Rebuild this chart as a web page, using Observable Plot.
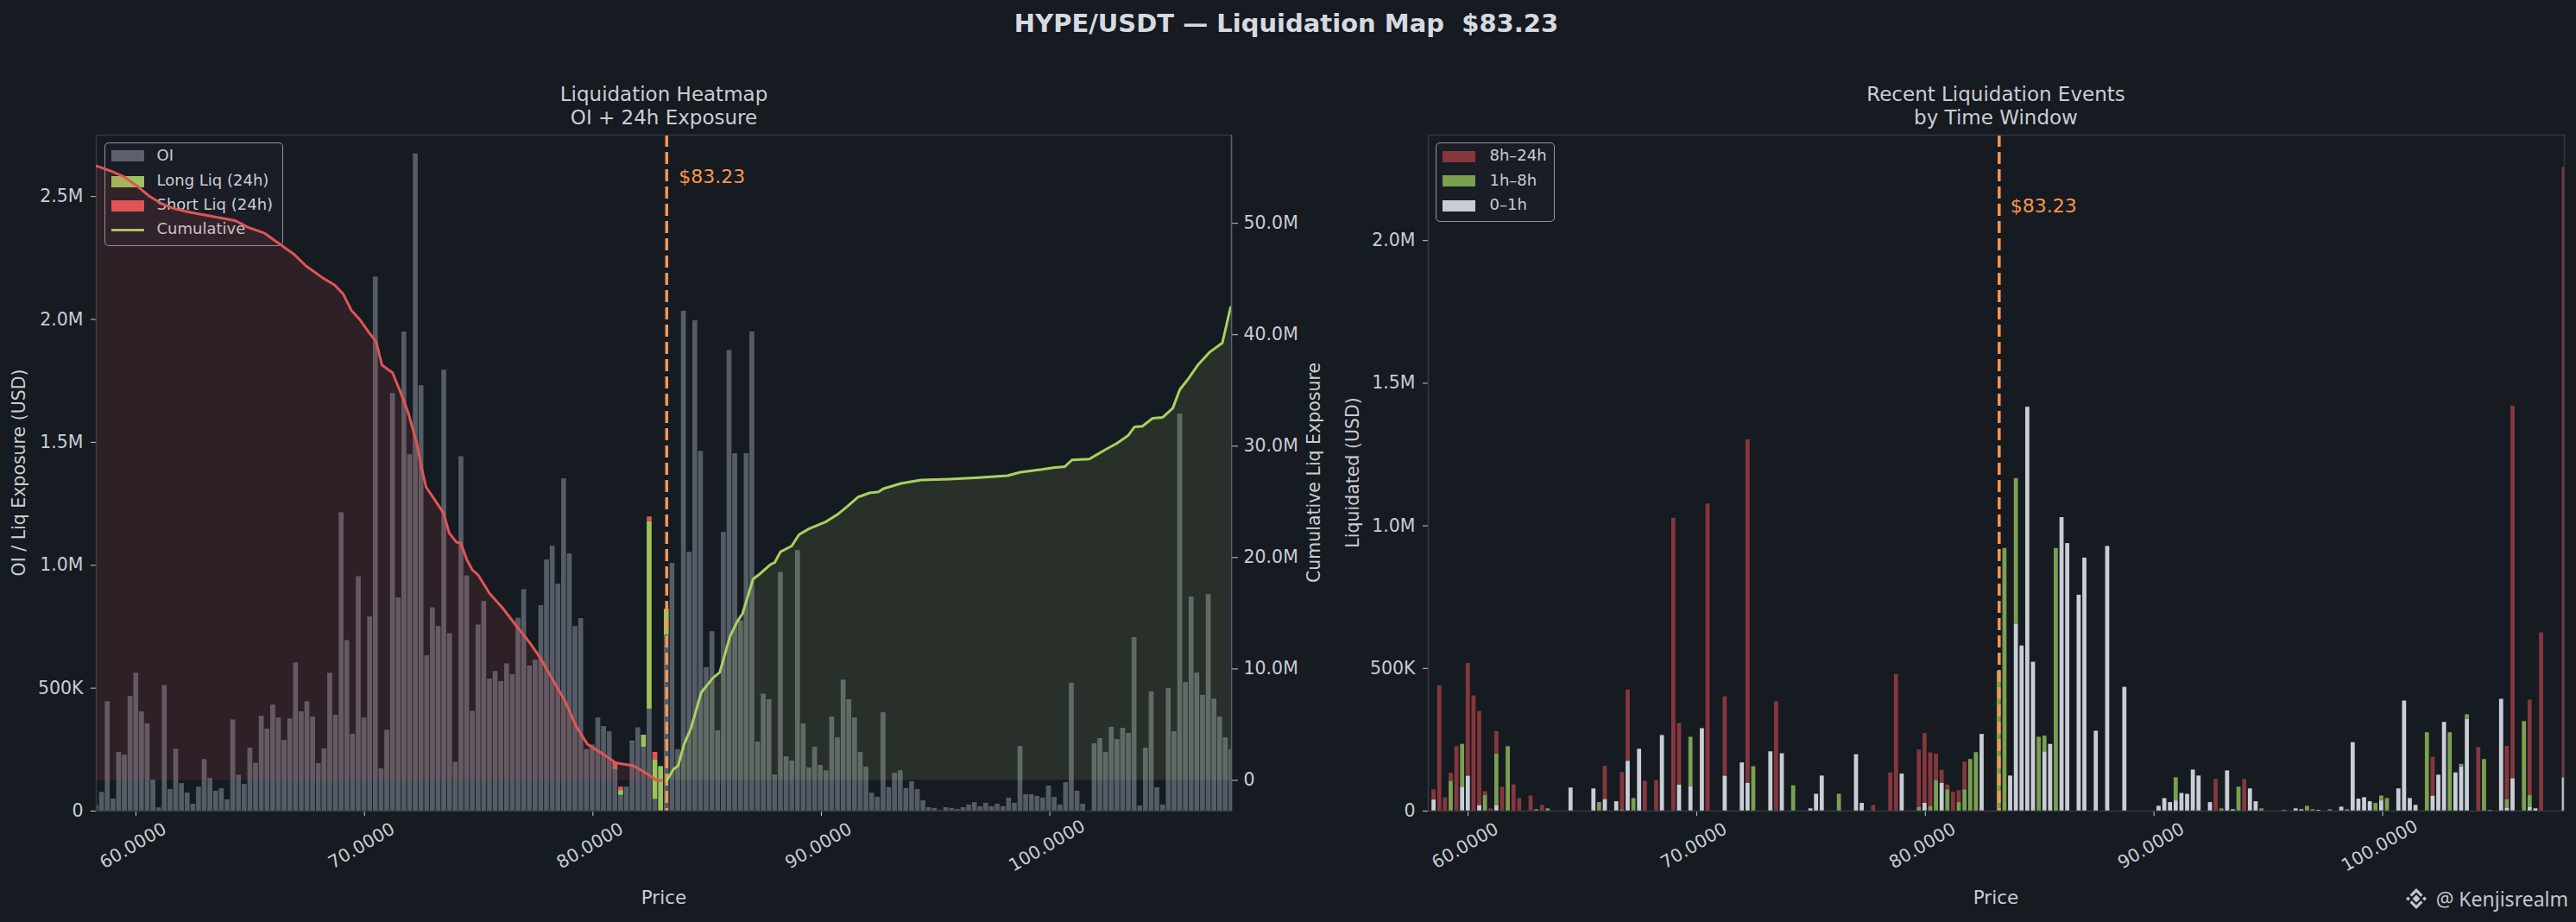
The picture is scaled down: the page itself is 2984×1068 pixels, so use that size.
<!DOCTYPE html>
<html>
<head>
<meta charset="utf-8">
<script src="https://cdn.jsdelivr.net/npm/d3@7"></script>
<script src="https://cdn.jsdelivr.net/npm/@observablehq/plot@0.6"></script>
<style>
html, body { margin:0; padding:0; background:#161a21; }
#root { position:relative; width:2984px; height:1068px; overflow:hidden; background:#161a21; font-family:"DejaVu Sans", sans-serif; }
.layer { position:absolute; top:0; }
.legend { position:absolute; box-sizing:border-box; background:rgba(27,31,39,0.82); border:1.5px solid rgba(175,180,187,0.8); border-radius:5px; }
.legend .sw { position:absolute; }
.legend .lab { position:absolute; font-size:18px; color:#c9cdd3; line-height:18px; white-space:nowrap; }
</style>
</head>
<body>
<div id="root"></div>
<script>
// ---------------- DATA ----------------
const price = 83.23;
const binLow = 58.261;      // first bin (0.7 x price)
const binStep = 0.24969;    // bin width (0.003 x price)
const xTicks = [60, 70, 80, 90, 100];
const leftTicksM = [0, 0.5, 1.0, 1.5, 2.0, 2.5];
const cumTicksM = [0, 10, 20, 30, 40, 50];
const recentTicksM = [0, 0.5, 1.0, 1.5, 2.0];

// Open interest per price bin (USD millions), 200 bins
const oiM = [
  0.022,0.076,0.445,0.049,0.239,0.228,0.467,0.561,0.404,0.355,
  0.126,0.013,0.511,0.088,0.252,0.112,0.074,0.028,0.098,0.210,
  0.133,0.081,0.091,0.046,0.371,0.146,0.109,0.256,0.195,0.386,
  0.334,0.431,0.379,0.288,0.375,0.603,0.404,0.445,0.383,0.193,
  0.253,0.561,0.390,1.214,0.694,0.313,0.954,0.379,0.790,2.173,
  0.172,0.329,1.699,0.867,1.949,1.450,2.674,1.731,0.632,0.827,
  0.751,1.794,0.722,0.199,1.442,0.957,0.406,0.757,0.853,0.537,
  0.568,0.527,0.599,0.555,0.785,0.901,0.590,0.614,0.836,1.022,
  1.078,0.923,1.352,1.046,0.751,0.783,0.250,0.269,0.379,0.344,
  0.323,0.170,0.064,0.098,0.280,0.339,0.260,0.415,0.047,0.000,
  0.716,1.008,0.250,2.034,1.053,1.995,1.464,0.584,0.730,0.327,
  1.134,1.874,1.454,0.774,1.454,1.949,0.281,0.476,0.453,0.147,
  0.971,0.221,0.204,1.060,0.355,0.176,0.260,0.186,0.164,0.383,
  0.298,0.533,0.453,0.379,0.239,0.179,0.073,0.056,0.400,0.096,
  0.154,0.164,0.092,0.119,0.088,0.042,0.014,0.011,0.002,0.014,
  0.011,0.007,0.014,0.025,0.035,0.018,0.032,0.018,0.028,0.018,
  0.053,0.032,0.263,0.067,0.067,0.060,0.053,0.102,0.056,0.025,
  0.116,0.520,0.081,0.028,0.000,0.274,0.295,0.239,0.341,0.291,
  0.337,0.316,0.706,0.021,0.256,0.485,0.095,0.025,0.499,0.323,
  1.615,0.523,0.871,0.562,0.471,0.881,0.456,0.383,0.298,0.250
];

// 24h long / short liquidations (USD millions) by bin index
const longIdx = [91, 92, 94, 96, 97, 98, 99, 100];
const longM   = [0.005, 0.020, 0.003, 0.049, 0.763, 0.160, 0.181, 0.105];
const shortIdx = [91, 92, 97, 98];
const shortM   = [0.023, 0.014, 0.019, 0.032];

// Cumulative exposure curves (USD millions)
const cumShortPrice = [58.26,58.95,59.49,60.03,60.58,61.12,61.66,62.38,63.11,63.83,64.37,64.91,65.63,66.36,66.90,67.44,68.16,68.70,69.07,69.43,69.79,70.15,70.51,70.77,71.23,71.60,71.90,72.27,72.52,72.70,72.96,73.46,73.71,74.03,74.22,74.47,74.72,74.97,75.48,76.04,76.60,77.24,77.74,78.24,78.75,79.25,79.76,80.26,81.01,81.77,82.27,82.78,83.00];
const cumShortM     = [55.16,54.65,54.17,53.37,52.44,51.77,51.32,50.98,50.71,50.44,50.23,49.64,49.11,48.04,47.25,46.18,45.12,44.45,43.65,42.19,41.38,40.33,39.39,37.26,36.59,34.73,33.10,30.44,27.86,26.32,25.54,24.00,22.19,21.37,21.29,19.87,18.89,18.45,16.77,15.49,14.00,12.34,10.85,9.04,7.24,4.92,3.24,2.60,1.57,1.31,0.72,0.02,0.00];
const cumLongPrice = [83.23,83.53,83.73,83.99,84.29,84.74,85.24,85.55,86.00,86.30,86.55,87.01,87.26,87.76,87.96,88.21,88.70,89.02,89.45,90.20,90.71,91.09,91.59,92.10,92.50,92.72,93.48,94.36,95.62,96.88,98.14,98.71,99.65,100.15,100.66,100.97,101.73,102.42,102.92,103.43,103.71,104.05,104.50,104.94,105.38,105.69,106.08,106.47,107.01,107.55,107.91];
const cumLongM     = [0.00,1.00,1.31,3.24,4.66,7.88,9.17,9.69,12.91,14.20,14.97,18.07,18.45,19.36,19.56,20.52,21.03,22.06,22.57,23.22,23.87,24.51,25.41,25.80,25.90,26.19,26.65,26.96,27.04,27.17,27.35,27.66,27.91,28.07,28.17,28.76,28.84,29.67,30.23,30.96,31.73,31.78,32.51,32.58,33.40,35.08,36.10,37.26,38.46,39.26,42.45];

// Recent liquidation events (USD millions) by bin index and time window
const evIdx = [
  1,2,3,4,5,6,7,8,9,10,
  11,12,13,14,15,16,18,19,20,21,
  25,29,30,31,33,34,35,36,37,38,
  40,41,43,44,46,48,49,52,55,56,
  57,60,61,62,64,67,68,69,72,75,
  76,78,81,82,83,86,87,88,89,90,
  91,92,93,94,95,96,97,100,101,102,
  103,104,105,106,107,108,109,110,111,112,
  114,115,117,119,122,128,129,130,131,132,
  133,134,135,137,138,139,140,141,142,143,
  144,145,146,150,152,153,154,155,156,158,
  160,161,162,163,164,165,166,167,168,170,
  171,172,173,175,176,177,178,179,180,181,
  182,184,185,186,188,189,190,192,193,194,
  195,199];
const ev0to1h = [
  .039,0,0,0,0,.084,.123,0,.020,0,
  0,.020,0,0,0,0,0,0,0,0,
  .081,.078,0,.041,.033,0,.175,0,.217,0,
  0,.265,0,.092,.086,.289,0,.123,.169,.098,
  0,.208,0,.201,0,.008,.059,.123,0,.198,
  .027,0,0,0,.130,0,.028,0,0,.098,
  0,0,0,0,0,0,.269,0,0,.123,
  .654,.579,1.416,.522,0,.208,.234,0,1.029,.938,
  .757,.887,.280,.928,.434,.017,.044,.030,.036,.062,
  .059,.144,.123,.030,0,0,.141,.005,0,0,
  .078,.033,0,0,.008,.005,0,0,.003,0,
  .014,0,.240,.042,.047,.033,0,.036,0,.078,
  .386,.044,.020,0,.053,.126,.311,0,.134,.156,
  .322,0,0,0,.392,.011,.114,0,.014,.008,
  0,.117];
const ev1to8h = [
  0,0,0,.105,0,.150,0,0,0,.056,
  0,.181,0,.226,0,0,0,.005,0,.008,
  0,0,.030,0,0,.005,0,.044,0,0,
  0,0,0,0,.173,0,0,0,0,0,
  .156,0,0,0,.089,0,0,0,.059,0,
  0,0,0,0,0,.014,0,.017,.108,0,
  .075,0,.030,.075,.181,.205,0,.490,.921,0,
  .512,0,0,0,.259,.055,0,.921,0,0,
  0,0,0,0,0,0,0,0,.081,0,
  0,0,0,0,0,.008,0,0,.084,0,
  0,0,.008,.003,0,0,.017,.005,0,.005,
  0,.005,0,0,0,0,.027,.017,.044,0,
  0,0,0,.275,0,0,0,.275,0,.008,
  .016,0,.181,.003,0,.030,0,.314,.042,0,
  0,0];
const ev8to24h = [
  .036,.440,.047,.028,.226,0,.395,.404,.329,.012,
  .008,.078,.084,0,.092,.044,.053,0,.020,0,
  0,0,0,.116,0,.130,.250,0,0,.105,
  .108,0,1.027,.215,0,0,1.077,.278,0,1.204,
  0,0,.383,0,0,0,0,0,0,0,
  0,.020,.134,.479,0,.200,.244,.187,.092,.045,
  .017,.066,.042,.097,0,0,0,0,0,0,
  0,0,0,0,0,0,0,0,0,0,
  0,0,0,0,0,0,0,0,0,0,
  0,0,0,0,.111,0,0,0,0,.111,
  0,0,0,0,0,0,0,0,0,0,
  0,0,0,0,0,0,0,0,0,0,
  0,0,0,0,.136,0,0,0,0,0,
  0,.223,0,0,0,.186,1.306,0,.333,0,
  .625,2.140];

// ---------------- STYLE ----------------
const TXT = "#c9cdd3";
const C = {
  oi: "#555c66", long: "#9dc35b", short: "#e05555",
  cumShort: "#e05555", cumLong: "#a9d15f", fillLong: "#b5d56a",
  price: "#ff9650", spine: "#343942",
  w824: "#85373d", w18: "#7aa050", w01: "#c9ced6"
};
const H = 1068;
const root = document.getElementById("root");
const xDomain = [binLow, binLow + (oiM.length - 1) * binStep];
const center = i => binLow + i * binStep;
const fmtUSD = v => v === 0 ? "0" : v < 1e6 ? Math.round(v / 1e3) + "K" : (v / 1e6).toFixed(1) + "M";
const baseStyle = {background: "transparent", color: TXT, fontFamily: "DejaVu Sans, sans-serif", fontSize: "20.5px", overflow: "visible"};

function place(node, left) {
  const d = document.createElement("div");
  d.className = "layer";
  d.style.left = left + "px";
  d.appendChild(node);
  root.appendChild(d);
}
function legend(box, rows) {
  const d = document.createElement("div");
  d.className = "legend";
  Object.assign(d.style, {left: box.x + "px", top: box.y + "px", width: box.w + "px", height: box.h + "px"});
  rows.forEach(r => {
    const s = document.createElement("div");
    s.className = "sw";
    if (r.line) {
      Object.assign(s.style, {left: box.sx + "px", top: (r.cy - 1.5) + "px", width: box.sw + "px", height: "3px", background: r.color});
    } else {
      Object.assign(s.style, {left: box.sx + "px", top: (r.cy - 6.5) + "px", width: box.sw + "px", height: "13px", background: r.color});
    }
    d.appendChild(s);
    const t = document.createElement("div");
    t.className = "lab";
    t.textContent = r.label;
    Object.assign(t.style, {left: box.tx + "px", top: (r.cy - 10) + "px"});
    d.appendChild(t);
  });
  root.appendChild(d);
}

// ---------------- LEFT PANEL ----------------
const LW = 1560;
const leftMargins = {width: LW, height: H, marginLeft: 111, marginRight: LW - 1426, marginTop: 156, marginBottom: H - 939};
const hwL = binStep * 0.43;
const oiRows = oiM.map((v, i) => ({c: center(i), y1: 0, y2: v * 1e6}));
const liqRows = [];
oiM.forEach((v, i) => {
  const l = longM[longIdx.indexOf(i)] ?? 0;
  const s = shortM[shortIdx.indexOf(i)] ?? 0;
  if (l > 0) liqRows.push({c: center(i), y1: v * 1e6, y2: (v + l) * 1e6, kind: "long"});
  if (s > 0) liqRows.push({c: center(i), y1: (v + l) * 1e6, y2: (v + l + s) * 1e6, kind: "short"});
});

const p1 = Plot.plot({
  ...leftMargins,
  style: baseStyle,
  x: {type: "linear", domain: xDomain},
  y: {domain: [0, 2.75e6]},
  marks: [
    Plot.rect(oiRows, {x1: d => d.c - hwL, x2: d => d.c + hwL, y1: "y1", y2: "y2", fill: C.oi, clip: true}),
    Plot.rect(liqRows, {x1: d => d.c - hwL, x2: d => d.c + hwL, y1: "y1", y2: "y2", fill: d => d.kind === "long" ? C.long : C.short, clip: true}),
    Plot.ruleX([price], {stroke: C.price, strokeWidth: 3.5, strokeDasharray: "14,6"}),
    Plot.text(["$" + price.toFixed(2)], {x: price, frameAnchor: "top", dy: 40, dx: 14, textAnchor: "start", fill: C.price, fontSize: 22}),
    Plot.axisY({ticks: leftTicksM.map(v => v * 1e6), tickFormat: fmtUSD, tickSize: 6, tickPadding: 9, label: null}),
    Plot.axisX({ticks: xTicks, tickSize: 6, tickFormat: () => "", label: null}),
    Plot.text(xTicks, {x: d => d, frameAnchor: "bottom", dy: 46, rotate: -30, text: d => d.toFixed(4), fill: TXT, fontSize: 20.5}),
    Plot.frame({stroke: C.spine, strokeWidth: 1.5})
  ]
});
place(p1, 0);

legend({x: 120.5, y: 164.5, w: 207, h: 120, sx: 7, sw: 38.5, tx: 60},
  [{label: "OI", color: "#5b626c", cy: 15},
   {label: "Long Liq (24h)", color: C.long, cy: 44.5},
   {label: "Short Liq (24h)", color: C.short, cy: 72.5},
   {label: "Cumulative", color: C.cumLong, cy: 100.5, line: true}]);

const cumMax = Math.max(...cumShortM, ...cumLongM) * 1e6;
const shortRows = cumShortPrice.map((p, j) => ({p, v: cumShortM[j] * 1e6}));
const longRows = cumLongPrice.map((p, j) => ({p, v: cumLongM[j] * 1e6}));
const p2 = Plot.plot({
  ...leftMargins,
  style: baseStyle,
  x: {type: "linear", domain: xDomain, axis: null},
  y: {domain: [-0.05 * cumMax, 1.05 * cumMax], axis: null},
  marks: [
    Plot.areaY(shortRows, {x: "p", y1: 0, y2: "v", fill: C.cumShort, fillOpacity: 0.12, clip: true}),
    Plot.areaY(longRows, {x: "p", y1: 0, y2: "v", fill: C.fillLong, fillOpacity: 0.12, clip: true}),
    Plot.line(shortRows, {x: "p", y: "v", stroke: C.cumShort, strokeWidth: 3, clip: true}),
    Plot.line(longRows, {x: "p", y: "v", stroke: C.cumLong, strokeWidth: 3, clip: true}),
    Plot.axisY({anchor: "right", ticks: cumTicksM.map(v => v * 1e6), tickFormat: fmtUSD, tickSize: 7, tickPadding: 7, label: null}),
    Plot.ruleX([xDomain[1]], {stroke: "#5c626b", strokeWidth: 1.5})
  ]
});
place(p2, 0);

// ---------------- RIGHT PANEL ----------------
const RW = 1424, RL = 1560;
const hwR = binStep * 0.36;
const evRows = [];
evIdx.forEach((k, j) => {
  const c = center(k);
  const a = ev0to1h[j], b = ev1to8h[j], r = ev8to24h[j];
  if (a > 0) evRows.push({c, y1: 0, y2: a * 1e6, w: "0–1h"});
  if (b > 0) evRows.push({c, y1: a * 1e6, y2: (a + b) * 1e6, w: "1h–8h"});
  if (r > 0) evRows.push({c, y1: (a + b) * 1e6, y2: (a + b + r) * 1e6, w: "8h–24h"});
});
const evMax = d3.max(evRows, d => d.y2);
const wColor = {"0–1h": C.w01, "1h–8h": C.w18, "8h–24h": C.w824};
const p3 = Plot.plot({
  width: RW, height: H, marginLeft: 1654 - RL, marginRight: RL + RW - 2970, marginTop: 156, marginBottom: H - 939,
  style: baseStyle,
  x: {type: "linear", domain: xDomain},
  y: {domain: [0, 1.05 * evMax]},
  marks: [
    Plot.rect(evRows, {x1: d => d.c - hwR, x2: d => d.c + hwR, y1: "y1", y2: "y2", fill: d => wColor[d.w], clip: true}),
    Plot.ruleX([price], {stroke: C.price, strokeWidth: 3.5, strokeDasharray: "14,6"}),
    Plot.text(["$" + price.toFixed(2)], {x: price, frameAnchor: "top", dy: 74, dx: 13, textAnchor: "start", fill: C.price, fontSize: 22}),
    Plot.axisY({ticks: recentTicksM.map(v => v * 1e6), tickFormat: fmtUSD, tickSize: 6, tickPadding: 9, label: null}),
    Plot.axisX({ticks: xTicks, tickSize: 6, tickFormat: () => "", label: null}),
    Plot.text(xTicks, {x: d => d, frameAnchor: "bottom", dy: 46, rotate: -30, text: d => d.toFixed(4), fill: TXT, fontSize: 20.5}),
    Plot.frame({stroke: C.spine, strokeWidth: 1.5})
  ]
});
place(p3, RL);

legend({x: 1662.5, y: 164.5, w: 138, h: 92, sx: 7.5, sw: 38, tx: 62},
  [{label: "8h–24h", color: C.w824, cy: 15.5},
   {label: "1h–8h", color: C.w18, cy: 44},
   {label: "0–1h", color: C.w01, cy: 72.5}]);

// ---------------- TEXT OVERLAY ----------------
const NS = "http://www.w3.org/2000/svg";
const ov = document.createElementNS(NS, "svg");
ov.setAttribute("width", 2984); ov.setAttribute("height", H);
ov.style.position = "absolute"; ov.style.left = "0"; ov.style.top = "0"; ov.style.pointerEvents = "none";
function txt(s, x, y, o = {}) {
  const t = document.createElementNS(NS, "text");
  t.textContent = s;
  t.setAttribute("x", x); t.setAttribute("y", y);
  t.setAttribute("text-anchor", o.anchor || "middle");
  t.setAttribute("dominant-baseline", "central");
  t.setAttribute("fill", o.fill || TXT);
  t.setAttribute("font-size", o.size || 20.5);
  t.setAttribute("font-family", o.family || "DejaVu Sans, sans-serif");
  if (o.weight) t.setAttribute("font-weight", o.weight);
  if (o.rotate) t.setAttribute("transform", `rotate(${o.rotate} ${x} ${y})`);
  t.style.whiteSpace = "pre";
  ov.appendChild(t);
}
txt("HYPE/USDT — Liquidation Map  $" + price.toFixed(2), 1490, 27, {size: 29, weight: "bold", fill: "#d6dae0"});
txt("Liquidation Heatmap", 769, 108.5, {size: 23});
txt("OI + 24h Exposure", 769, 135.5, {size: 23});
txt("Recent Liquidation Events", 2312, 108.5, {size: 23});
txt("by Time Window", 2312, 135.5, {size: 23});
txt("OI / Liq Exposure (USD)", 22, 547.5, {rotate: -90});
txt("Cumulative Liq Exposure", 1522, 547.5, {rotate: -90});
txt("Liquidated (USD)", 1567, 547.5, {rotate: -90});
txt("Price", 769, 1039, {size: 21.5});
txt("Price", 2312, 1039, {size: 21.5});
txt("@ Kenjisrealm", 2975, 1041, {anchor: "end", size: 23, family: "Noto Sans, DejaVu Sans, sans-serif", fill: "#c3c7cd"});
// watermark logo
const g = document.createElementNS(NS, "g");
g.setAttribute("transform", "translate(2786,1028)");
g.setAttribute("fill", "#c3c7cd");
[["13,8.5 17.5,13 13,17.5 8.5,13"], ["3.5,10.5 6,13 3.5,15.5 1,13"], ["22.5,10.5 25,13 22.5,15.5 20,13"],
 ["13,1 20.5,8.5 18.2,10.8 13,5.6 7.8,10.8 5.5,8.5"], ["13,25 20.5,17.5 18.2,15.2 13,20.4 7.8,15.2 5.5,17.5"]]
  .forEach(([pts]) => { const p = document.createElementNS(NS, "polygon"); p.setAttribute("points", pts); g.appendChild(p); });
ov.appendChild(g);
root.appendChild(ov);
</script>
</body>
</html>
